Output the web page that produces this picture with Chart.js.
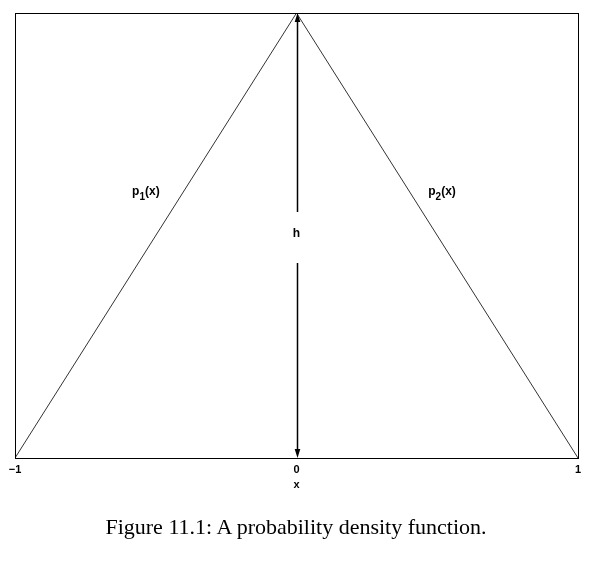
<!DOCTYPE html>
<html>
<head>
<meta charset="utf-8">
<script src="https://cdn.jsdelivr.net/npm/chart.js@4"></script>
<style>
  html, body { margin: 0; padding: 0; background: #fff; }
  #wrap { position: relative; width: 610px; height: 562px; }
  #caption {
    position: absolute; left: 0; width: 592px; top: 514px; text-align: center;
    font-family: "Liberation Serif", "DejaVu Serif", serif; font-size: 22px; color: #000;
  }
</style>
</head>
<body>
<div id="wrap">
  <canvas id="chart" width="610" height="562"></canvas>
  <div id="caption">Figure 11.1: A probability density function.</div>
</div>
<script>
// triangle density: p1 on [-1,0], p2 on [0,1], peak h at 0
const xValues = [-1, 0, 1];
const density = [0, 1, 0];
const xTicks = [-1, 0, 1];
const xTickLabels = ["\u22121", "0", "1"];

// height arrow at x = 0, broken around the "h" label
const arrowX = 0;
const arrowTop = 1;
const gapTop = 0.553;
const gapBottom = 0.438;

// text labels (data coords)
const labels = [
  { x: -0.535, y: 0.598, base: "p", sub: "1", rest: "(x)" },
  { x: 0.517, y: 0.598, base: "p", sub: "2", rest: "(x)" },
  { x: 0, y: 0.503, base: "h", sub: "", rest: "" }
];

const FONT = '"Liberation Sans", Arial, sans-serif';

const frameAndArrow = {
  id: "frameAndArrow",
  afterDatasetsDraw(chart) {
    const { ctx, chartArea: a, scales: { x, y } } = chart;
    ctx.save();
    // box
    ctx.strokeStyle = "#000";
    ctx.lineWidth = 1;
    ctx.strokeRect(a.left + 0.5, a.top + 0.5, a.right - a.left, a.bottom - a.top);

    // arrow shaft
    const px = Math.round(x.getPixelForValue(arrowX)) + 0.5;
    const yTop = y.getPixelForValue(arrowTop);
    const yBot = y.getPixelForValue(0);
    ctx.lineWidth = 1.5;
    ctx.beginPath();
    ctx.moveTo(px, yTop + 6);
    ctx.lineTo(px, y.getPixelForValue(gapTop));
    ctx.moveTo(px, y.getPixelForValue(gapBottom));
    ctx.lineTo(px, yBot - 6);
    ctx.stroke();
    // arrow heads
    ctx.fillStyle = "#000";
    ctx.beginPath();
    ctx.moveTo(px, yTop);
    ctx.lineTo(px - 2.8, yTop + 9);
    ctx.lineTo(px + 2.8, yTop + 9);
    ctx.closePath();
    ctx.fill();
    ctx.beginPath();
    ctx.moveTo(px, yBot);
    ctx.lineTo(px - 2.8, yBot - 9);
    ctx.lineTo(px + 2.8, yBot - 9);
    ctx.closePath();
    ctx.fill();

    // labels with subscripts
    ctx.textBaseline = "middle";
    labels.forEach(l => {
      const mainFont = "bold 12px " + FONT;
      const subFont = "bold 10px " + FONT;
      ctx.font = mainFont;
      const w1 = ctx.measureText(l.base).width;
      const w3 = ctx.measureText(l.rest).width;
      ctx.font = subFont;
      const w2 = ctx.measureText(l.sub).width;
      const total = w1 + w2 + w3;
      let cx = x.getPixelForValue(l.x) - total / 2;
      const cy = y.getPixelForValue(l.y);
      ctx.textAlign = "left";
      ctx.font = mainFont;
      ctx.fillText(l.base, cx, cy);
      cx += w1;
      ctx.font = subFont;
      ctx.fillText(l.sub, cx, cy + 5);
      cx += w2;
      ctx.font = mainFont;
      ctx.fillText(l.rest, cx, cy);
    });
    ctx.restore();
  }
};

new Chart(document.getElementById("chart"), {
  type: "line",
  data: {
    datasets: [{
      data: xValues.map((v, i) => ({ x: v, y: density[i] })),
      borderColor: "#333",
      borderWidth: 1,
      pointRadius: 0,
      tension: 0
    }]
  },
  options: {
    responsive: false,
    animation: false,
    events: [],
    layout: { padding: { left: 15, top: 13, right: 32, bottom: 0 } },
    plugins: { legend: { display: false }, tooltip: { enabled: false } },
    scales: {
      x: {
        type: "linear",
        min: -1,
        max: 1,
        afterBuildTicks: s => { s.ticks = xTicks.map(v => ({ value: v })); },
        afterFit: s => { s.height = 104; },
        grid: { display: false, drawTicks: false },
        border: { display: false },
        ticks: {
          padding: 5,
          color: "#000",
          font: { family: FONT, size: 11, weight: "bold" },
          callback: v => xTickLabels[xTicks.indexOf(v)],
          maxRotation: 0
        },
        title: {
          display: true,
          text: "x",
          color: "#000",
          font: { family: FONT, size: 11, weight: "bold" },
          padding: { top: 0, bottom: 70 }
        }
      },
      y: {
        display: false,
        min: 0,
        max: 1
      }
    }
  },
  plugins: [frameAndArrow]
});
</script>
</body>
</html>
